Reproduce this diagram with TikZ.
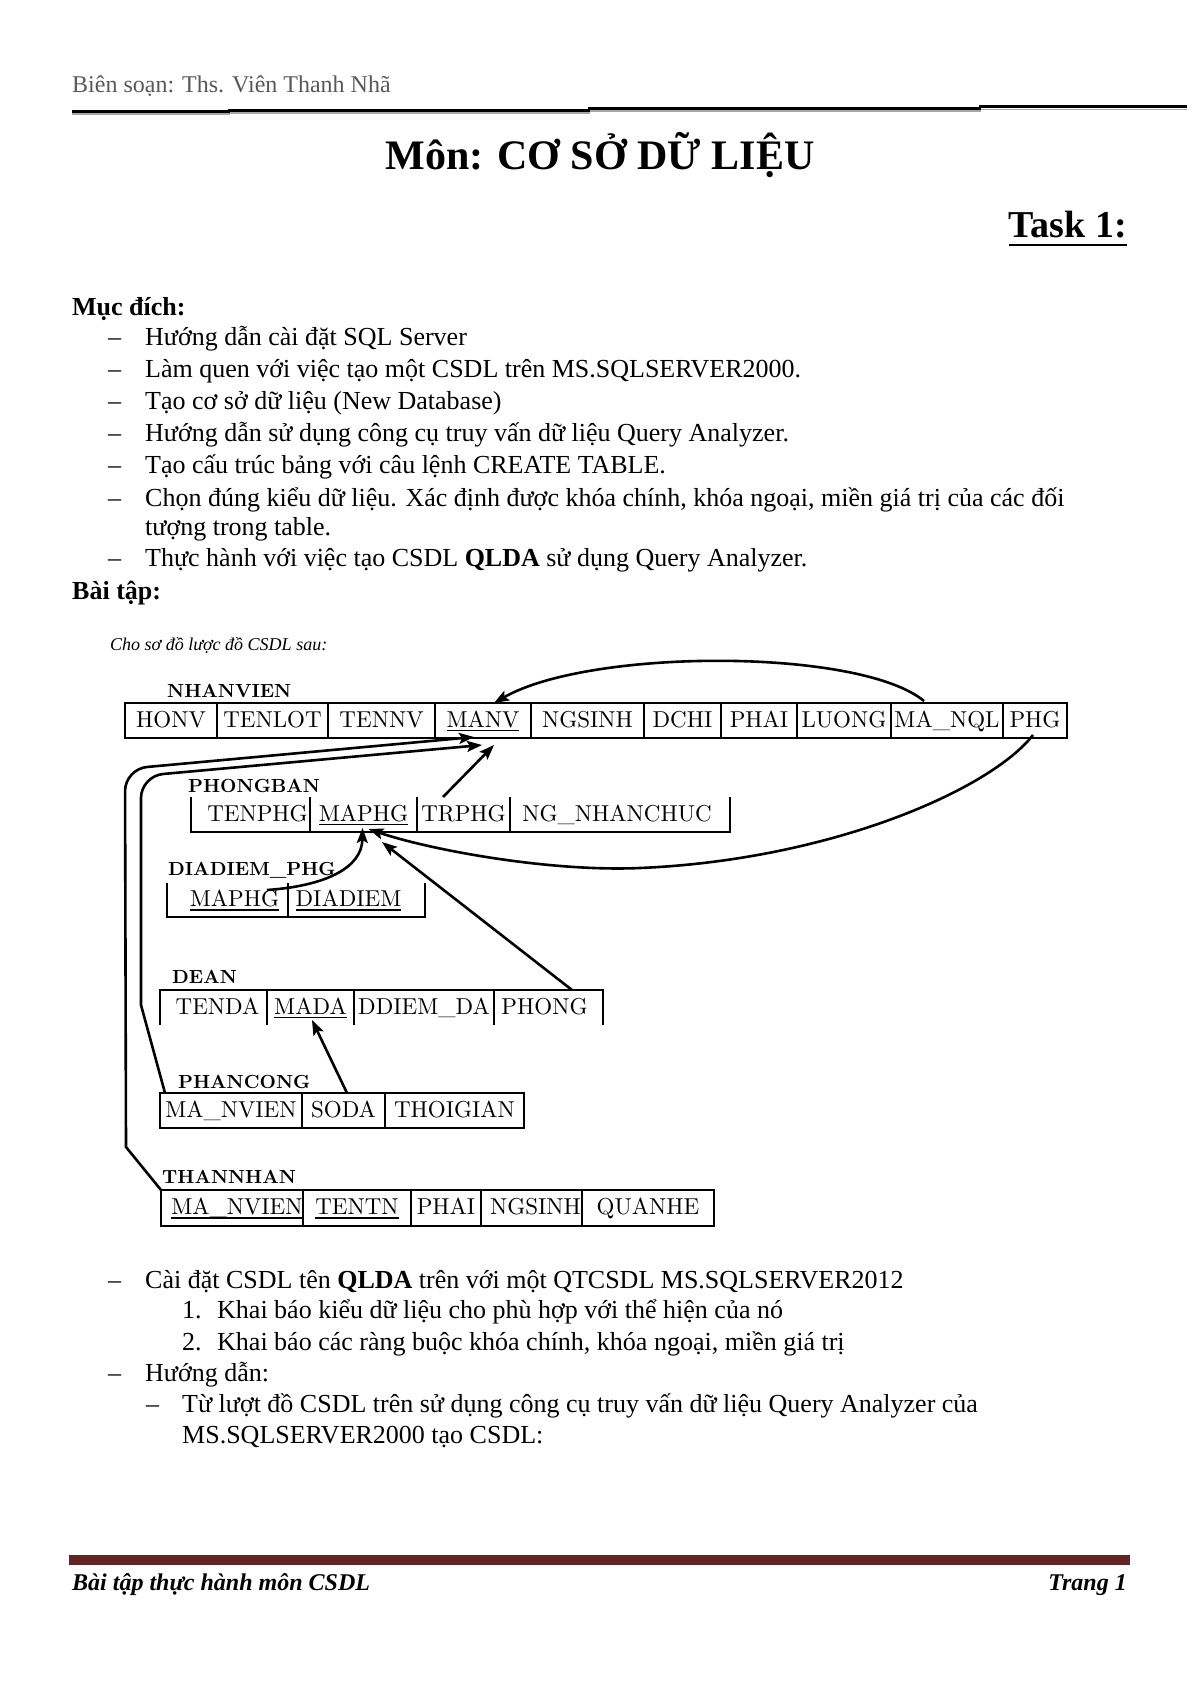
\documentclass[tikz,border=0pt]{standalone}
\usepackage{fontspec}
\setmainfont{Liberation Serif}
\newfontfamily\lmten{lmroman10-regular.otf}[BoldFont=lmroman10-bold.otf]
\usetikzlibrary{arrows.meta,calc}
\definecolor{barred}{HTML}{632523}
\newcommand\ulx[1]{\setbox0\hbox{#1}\rlap{\vrule width\wd0 height -2.5pt depth 4pt}\box0}
\begin{document}
\begin{tikzpicture}[x=1pt,y=-1pt,
  txt/.style={font=\fontsize{26}{32}\selectfont, inner sep=0pt, anchor=base west},
  txtb/.style={txt, font=\fontsize{26}{32}\selectfont\bfseries},
  hdr/.style={font=\fontsize{24}{28}\selectfont, text=black!65, inner sep=0pt, anchor=base west},
  ttl/.style={font=\fontsize{42}{48}\selectfont\bfseries, inner sep=0pt, anchor=base},
  taskst/.style={font=\fontsize{38}{44}\selectfont\bfseries, inner sep=0pt, anchor=base east},
  small/.style={font=\fontsize{18}{22}\selectfont\itshape, inner sep=0pt, anchor=base west},
  foot/.style={font=\fontsize{24}{28}\selectfont\bfseries\itshape, inner sep=0pt},
  cell/.style={minimum width=#1, minimum height=35pt, inner sep=0pt, outer sep=0pt,
    text height=13pt, text depth=0pt, font=\lmten\fontsize{23}{27}\selectfont},
  dcell/.style={cell=#1, draw, line width=1.4pt},
  lbl/.style={font=\lmten\bfseries\fontsize{19}{22}\selectfont, inner sep=0pt, anchor=base west},
  frame/.style={line width=1.4pt},
  arr/.style={line width=2.6pt, -{Stealth[length=15pt,width=11pt,inset=3pt]}},
  hline/.style={line width=3pt}
]
\useasboundingbox (0,0) rectangle (1200,1696);
\fill[white] (0,0) rectangle (1200,1696);

% ---------- header ----------
\node[hdr] (hdr) at (72,93) {Biên soạn: Ths. Viên Thanh Nhã};
\draw[black!35, line width=1.2pt] (72,114) -- (230,114) (228,113) -- (590,113) (588,111) -- (981,111) (979,109.5) -- (1187,109.5);
\draw[hline] (72,111.5) -- (230,111.5);
\draw[hline] (228,110.5) -- (590,110.5);
\draw[hline] (588,108.5) -- (981,108.5);
\draw[hline] (979,107) -- (1187,107);

\node[ttl] (title) at (600,170) {Môn: CƠ SỞ DỮ LIỆU};
\node[taskst] (task) at (1127,238) {Task 1:};
\draw[line width=2.5pt] ($(task.base west)+(0,7)$) -- ($(task.base east)+(0,7)$);

% ---------- objectives ----------
\node[txtb] (mucdich) at (72,315) {Mục đích:};
\node[txt] (da1) at (108,345) {–};
\node[txt] (it1) at (145,345) {Hướng dẫn cài đặt SQL Server};
\node[txt] (da2) at (108,377) {–};
\node[txt] (it2) at (145,377) {Làm quen với việc tạo một CSDL trên MS.SQLSERVER2000.};
\node[txt] (da3) at (108,409) {–};
\node[txt] (it3) at (145,409) {Tạo cơ sở dữ liệu (New Database)};
\node[txt] (da4) at (108,441) {–};
\node[txt] (it4) at (145,441) {Hướng dẫn sử dụng công cụ truy vấn dữ liệu Query Analyzer.};
\node[txt] (da5) at (108,473) {–};
\node[txt] (it5) at (145,473) {Tạo cấu trúc bảng với câu lệnh CREATE TABLE.};
\node[txt] (da6) at (108,506) {–};
\node[txt] (it6) at (145,506) {Chọn đúng kiểu dữ liệu. Xác định được khóa chính, khóa ngoại, miền giá trị của các đối};
\node[txt] (it6b) at (145,535) {tượng trong table.};
\node[txt] (da7) at (108,566) {–};
\node[txt] (it7) at (145,566) {Thực hành với việc tạo CSDL \textbf{QLDA} sử dụng Query Analyzer.};
\node[txtb] (baitap) at (72,599) {Bài tập:};
\node[small] (cho) at (110,650) {Cho sơ đồ lược đồ CSDL sau:};

% ---------- NHANVIEN ----------
\node[lbl] (lnv) at (167,697) {NHANVIEN};
\node[dcell=92pt]  (nv1)  at (171,720.5)   {HONV};
\node[dcell=111pt] (nv2)  at (272.5,720.5) {TENLOT};
\node[dcell=107pt] (nv3)  at (381.5,720.5) {TENNV};
\node[dcell=96pt]  (nv4)  at (483,720.5)   {\ulx{MANV}};
\node[dcell=113pt] (nv5)  at (587.5,720.5) {NGSINH};
\node[dcell=77pt]  (nv6)  at (682.5,720.5) {DCHI};
\node[dcell=76pt]  (nv7)  at (759,720.5)   {PHAI};
\node[dcell=94pt]  (nv8)  at (844,720.5)   {LUONG};
\node[dcell=112pt] (nv9)  at (947,720.5)   {MA\_NQL};
\node[dcell=64pt]  (nv10) at (1035,720.5)  {PHG};

% ---------- PHONGBAN ----------
\node[lbl] (lpb) at (188,792) {PHONGBAN};
\node[cell=119pt] (pb1) at (250.5,814.5) {\kern14pt TENPHG};
\node[cell=107pt] (pb2) at (363.5,814.5) {\ulx{MAPHG}};
\node[cell=93pt]  (pb3) at (463.5,814.5) {TRPHG};
\node[cell=220pt] (pb4) at (620,814.5)   {NG\_NHANCHUC\kern6pt};
\draw[frame] (pb1.north west) -- (pb1.south west) -- (pb4.south east) -- (pb4.north east);
\draw[frame] (pb2.north west) -- (pb2.south west) (pb3.north west) -- (pb3.south west) (pb4.north west) -- (pb4.south west);

% ---------- DIADIEM_PHG ----------
\node[lbl] (ldd) at (168,875) {DIADIEM\_PHG};
\node[cell=121pt, minimum height=34pt] (dd1) at (227.5,900) {\kern14pt\ulx{MAPHG}};
\node[cell=137pt, minimum height=34pt] (dd2) at (356.5,900) {\ulx{DIADIEM}\kern16pt};
\draw[frame] (dd1.north west) -- (dd1.south west) -- (dd2.south east) -- (dd2.north east);
\draw[frame] (dd2.north west) -- (dd2.south west);

% ---------- DEAN ----------
\node[lbl] (lde) at (172,983) {DEAN};
\node[cell=107pt] (de1) at (213.5,1007.5) {\kern8pt TENDA};
\node[cell=87pt]  (de2) at (310.5,1007.5) {\ulx{MADA}};
\node[cell=140pt] (de3) at (424,1007.5)   {DDIEM\_DA};
\node[cell=109pt] (de4) at (548.5,1007.5) {PHONG\kern8pt};
\draw[frame] (de1.south west) -- (de1.north west) -- (de4.north east) -- (de4.south east);
\draw[frame] (de2.north west) -- (de2.south west) (de3.north west) -- (de3.south west) (de4.north west) -- (de4.south west);

% ---------- PHANCONG ----------
\node[lbl] (lpc) at (178,1088) {PHANCONG};
\node[dcell=142pt] (pc1) at (231,1110.5)   {MA\_NVIEN};
\node[dcell=83pt]  (pc2) at (343.5,1110.5) {SODA};
\node[dcell=139pt] (pc3) at (454.5,1110.5) {THOIGIAN};

% ---------- THANNHAN ----------
\node[lbl] (lth) at (162,1183) {THANNHAN};
\node[dcell=142pt, minimum height=36pt] (th1) at (232,1208)   {\kern10pt\ulx{MA\_NVIEN}};
\node[dcell=108pt, minimum height=36pt] (th2) at (357,1208)   {\ulx{TENTN}};
\node[dcell=70pt,  minimum height=36pt] (th3) at (446,1208)   {PHAI};
\node[dcell=101pt, minimum height=36pt] (th4) at (531.5,1208) {\kern8pt NGSINH};
\node[dcell=132pt, minimum height=36pt] (th5) at (648,1208)   {QUANHE};

% ---------- connectors ----------
\coordinate (bmid) at (640,868);
\coordinate (g1) at (141,1005);
\coordinate (g2) at (141,776);
\coordinate (h1) at (126,1147);
\coordinate (h2) at (125,769);
\draw[arr] ($(nv9.north)+(-23,-2)$) .. controls (860,648) and (590,648) .. ($(nv4.north)+(11,0)$);
\draw[arr] ($(nv10.south)+(-2,-3)$) .. controls (990,790) and (830,860) .. (bmid)
           .. controls (550,872) and (430,850) .. ($(pb2.south)+(5,-3)$);
\draw[arr] ($(pb3.north west)+(26,0)$) -- ($(nv4.south)+(11,7)$);
\draw[arr] ($(dd1.north east)+(-21,7)$) .. controls (325,886) and (362,868) .. ($(pb2.south)+(-1,-4)$);
\draw[arr] ($(de4.north)+(23.5,0)$) -- ($(pb2.south)+(18.5,10)$);
\draw[arr] ($(pc2.north)+(3.5,0)$) -- ($(de2.south)+(1.5,-5)$);
\draw[arr] ($(pc1.north west)+(5,0)$) -- (g1) [rounded corners=22pt] -- (g2) -- ($(nv4.south)+(-1,7)$);
\draw[arr] (th1.north west) -- (h1) [rounded corners=22pt] -- (h2) -- ($(nv4.south)+(-9,-1)$);

% ---------- exercise text ----------
\node[txt] (db1) at (108,1288) {–};
\node[txt] (ex1) at (145,1288) {Cài đặt CSDL tên \textbf{QLDA} trên với một QTCSDL MS.SQLSERVER2012};
\node[txt] (n1) at (182,1318) {1.};
\node[txt] (ex2) at (217,1318) {Khai báo kiểu dữ liệu cho phù hợp với thể hiện của nó};
\node[txt] (n2) at (182,1350) {2.};
\node[txt] (ex3) at (217,1350) {Khai báo các ràng buộc khóa chính, khóa ngoại, miền giá trị};
\node[txt] (db2) at (108,1381) {–};
\node[txt] (ex4) at (145,1381) {Hướng dẫn:};
\node[txt] (db3) at (146,1412) {–};
\node[txt] (ex5) at (182,1412) {Từ lượt đồ CSDL trên sử dụng công cụ truy vấn dữ liệu Query Analyzer của};
\node[txt] (ex6) at (182,1443) {MS.SQLSERVER2000 tạo CSDL:};

% ---------- footer ----------
\fill[barred] (69,1555) rectangle (1130,1565);
\node[foot, anchor=base west] (f1) at (72,1590) {Bài tập thực hành môn CSDL};
\node[foot, anchor=base east] (f2) at (1127,1590) {Trang 1};
\end{tikzpicture}
\end{document}
